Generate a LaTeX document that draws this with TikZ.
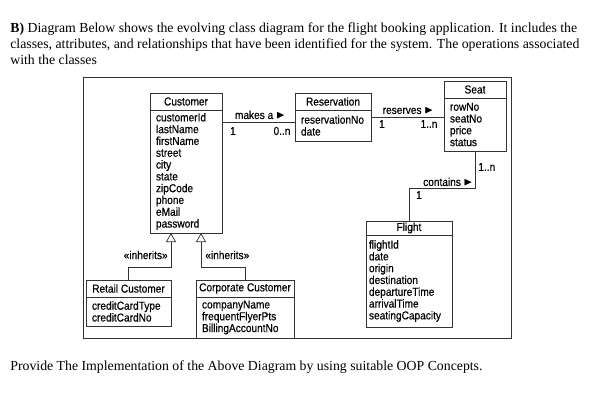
\documentclass[tikz,border=0pt]{standalone}
\usepackage{amssymb}
\usepackage{fontspec}
\setmainfont{Liberation Serif}
\newfontfamily\umlfont[FakeStretch=0.88,FakeBold=0.4]{Liberation Sans}
\usetikzlibrary{positioning,arrows.meta}

\begin{document}
\begin{tikzpicture}[x=1pt,y=-1pt,
  line width=0.7pt,
  head/.style={draw=black!80, outer sep=0pt, inner sep=0pt, minimum height=17pt,
    font=\umlfont\fontsize{11.5}{11.8}\selectfont, anchor=north west},
  attrs/.style={draw=black!80, outer sep=0pt, inner xsep=6pt, inner ysep=0pt, align=left,
    font=\umlfont\fontsize{11.5}{11.8}\selectfont, below=0pt of #1},
  lbl/.style={font=\umlfont\fontsize{11.5}{11.8}\selectfont, inner sep=0pt},
  inherit/.style={draw=black!80, -{Triangle[open, width=10pt, length=9pt]}},
  assoc/.style={draw=black!80}]

\useasboundingbox (0,0) rectangle (595,402);
\fill[white] (0,0) rectangle (595,402);

\node[anchor=north west, align=left, inner sep=0pt, font=\fontsize{13.8}{16.3}\selectfont] (intro) at (10,22)
  {\textbf{B)} Diagram Below shows the evolving class diagram for the flight booking application. It includes the\\
   classes, attributes, and relationships that have been identified for the system. The operations associated\\
   with the classes};

\draw[draw=black!80] (83,77) rectangle (511,338);

\node[head, minimum width=72pt] (cust) at (150,93) {Customer};
\node[attrs=cust, text width=60pt, minimum height=123pt] (custattr)
  {customerId\\lastName\\firstName\\street\\city\\state\\zipCode\\phone\\eMail\\password};

\node[head, minimum width=76pt] (res) at (295,93) {Reservation};
\node[attrs=res, text width=64pt, minimum height=31pt] (resattr)
  {reservationNo\\date};

\node[head, minimum width=62pt] (seat) at (444,81) {Seat};
\node[attrs=seat, text width=50pt, minimum height=53pt] (seatattr)
  {rowNo\\seatNo\\price\\status};

\node[head, minimum width=86pt, minimum height=14pt] (flight) at (366,221) {Flight};
\node[attrs=flight, inner xsep=3pt, text width=80pt, minimum height=92pt] (flightattr)
  {flightId\\date\\origin\\destination\\departureTime\\arrivalTime\\seatingCapacity};

\node[head, minimum width=85pt] (retail) at (86,280) {Retail Customer};
\node[attrs=retail, text width=73pt, minimum height=29pt] (retailattr)
  {creditCardType\\creditCardNo};

\node[head, minimum width=98pt] (corp) at (196,280) {Corporate Customer};
\node[attrs=corp, text width=86pt, minimum height=41pt] (corpattr)
  {companyName\\frequentFlyerPts\\BillingAccountNo};

\draw[assoc] (resattr.176) -- (custattr.east |- resattr.176);
\draw[assoc] (resattr.12.6) -- (seatattr.west |- resattr.12.6);

\coordinate (cbend) at (409,188);
\draw[assoc] (seatattr.south) |- (cbend) -- (flight.north);

\coordinate (ia) at (171,267);
\coordinate (ib) at (201,267);
\draw[inherit] (retail.north) |- (ia) -- (custattr.south -| ia);
\draw[inherit] (corp.north) |- (ib) -- (custattr.south -| ib);

\node[lbl, anchor=east] (ila) at (168,255) {«inherits»};
\node[lbl, anchor=west] (ilb) at (205,255) {«inherits»};

\node[lbl] (makes) at (260,115) {makes a $\blacktriangleright$};
\node[lbl] (m1) at (233,131) {1};
\node[lbl] (mn) at (282,131) {0..n};

\node[lbl] (reserves) at (408,111) {reserves $\blacktriangleright$};
\node[lbl] (r1) at (382,124) {1};
\node[lbl] (rn) at (429,124) {1..n};

\node[lbl, anchor=west] (sn) at (478,167) {1..n};
\node[lbl, anchor=east] (contains) at (473,182) {contains $\blacktriangleright$};
\node[lbl] (f1) at (419,195) {1};

\node[anchor=west, inner sep=0pt, font=\fontsize{13.8}{16}\selectfont] (task) at (10,367)
  {Provide The Implementation of the Above Diagram by using suitable OOP Concepts.};

\end{tikzpicture}
\end{document}
